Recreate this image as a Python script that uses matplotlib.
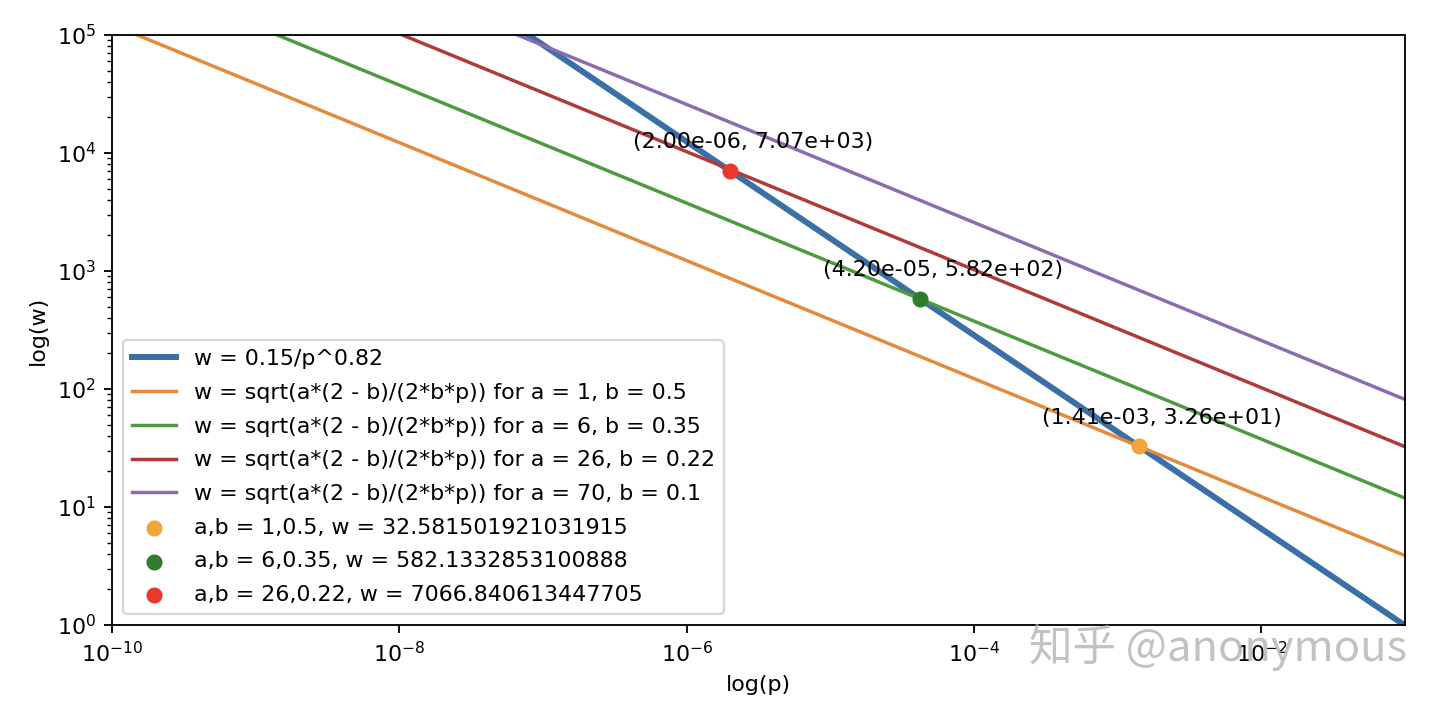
import numpy as np
import matplotlib
matplotlib.use("Agg")
import matplotlib.pyplot as plt

# ---- data ----
p_range = [1e-10, 1e-1]
blue_coef = 0.15
blue_exp = 0.82
a_vals = [1, 6, 26, 70]
b_vals = [0.5, 0.35, 0.22, 0.1]
line_colors = ["#e38b3c", "#4e9a40", "#b03a3a", "#8a6db0"]
pt_p = [1.41e-03, 4.20e-05, 2.00e-06]
pt_w = [32.581501921031915, 582.1332853100888, 7066.840613447705]
pt_a = ["1", "6", "26"]
pt_b = ["0.5", "0.35", "0.22"]
pt_colors = ["#f0a43a", "#2f7d2a", "#e8392c"]

DPI = 165
FS = 9.65
plt.rcParams['font.size'] = FS
fig = plt.figure(figsize=(1440 / DPI, 711 / DPI), dpi=DPI)
ax = fig.add_axes([112 / 1440, 1 - 625 / 711, (1405 - 112) / 1440, (625 - 35) / 711])

p = np.array(p_range)
ax.plot(p, blue_coef / p ** blue_exp, color="#3a70a6", lw=2.6, label=f"w = {blue_coef}/p^{blue_exp}")
for a, b, c in zip(a_vals, b_vals, line_colors):
    ax.plot(p, np.sqrt(a * (2 - b) / (2 * b * p)), color=c, lw=1.5,
            label=f"w = sqrt(a*(2 - b)/(2*b*p)) for a = {a}, b = {b}")
for x, y, a, b, c in zip(pt_p, pt_w, pt_a, pt_b, pt_colors):
    ax.scatter([x], [y], color=c, s=36, zorder=5, label=f"a,b = {a},{b}, w = {y}")
    ax.annotate(f"({x:.2e}, {y:.2e})", (x, y), xytext=(10, 10), textcoords="offset points",
                ha="center", fontsize=FS)

ax.set_xscale("log")
ax.set_yscale("log")
ax.set_xlim(1e-10, 1e-1)
ax.set_ylim(1e0, 1e5)
ax.xaxis.set_minor_locator(matplotlib.ticker.NullLocator())
ax.set_xlabel("log(p)")
ax.set_ylabel("log(w)")
ax.legend(loc="lower left", labelspacing=0.62)

fig.text(1218 / 1440, 1 - 648 / 711, "知乎 @anonymous", ha="center", va="center",
         fontsize=19, color="#b8b8b8", alpha=0.85, family=["Noto Sans CJK SC", "DejaVu Sans"],
         zorder=10)

fig.savefig("out.png", dpi=DPI)
